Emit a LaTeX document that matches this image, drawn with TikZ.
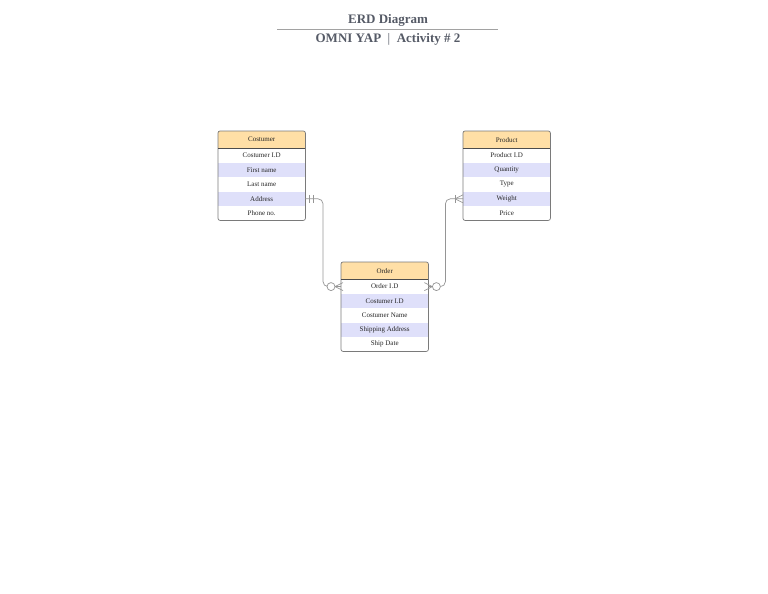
\documentclass[tikz,border=0pt]{standalone}
\usepackage{fontspec}
\setmainfont{Liberation Serif}
\usetikzlibrary{calc}
\definecolor{hd}{HTML}{FFDFA6}
\definecolor{alt}{HTML}{DFE0FA}
\definecolor{bd}{HTML}{7A7A7A}
\definecolor{tt}{HTML}{555A66}
\tikzset{
 cell/.style={minimum width=87pt,minimum height=14pt,inner sep=0pt,anchor=north west,font=\fontsize{7}{8}\selectfont,text=black!85},
 hdr/.style={cell,fill=hd,minimum height=17pt},
 w/.style={cell,fill=white},
 a/.style={cell,fill=alt},
 frame/.style={draw=bd,line width=0.7pt,rounded corners=2pt},
 conn/.style={draw=bd!80,line width=0.7pt},
}
\begin{document}
\begin{tikzpicture}[x=1pt,y=-1pt]
\useasboundingbox (0,0) rectangle (768,594);
\node[font=\bfseries\fontsize{13}{15}\selectfont,text=tt] (t1) at (388,20) {ERD Diagram};
\node[font=\bfseries\fontsize{13}{15}\selectfont,text=tt] (t2) at (388,39) {OMNI YAP \ {\mdseries|}\ \ Activity \# 2};
\draw[bd!70,line width=0.6pt] (277,29.5) -- (498,29.5);
% Customer
\node[hdr] (ch) at (218,131) {Costumer};
\node[w] (c1) at (ch.south west) {Costumer I.D};
\node[a] (c2) at (c1.south west) {First name};
\node[w] (c3) at (c2.south west) {Last name};
\node[a] (c4) at (c3.south west) {Address};
\node[w] (c5) at (c4.south west) {Phone no.};
\draw[frame] (ch.north west) rectangle (c5.south east);
\draw[black!70,line width=0.8pt] (ch.south west) -- (ch.south east);
% Product
\node[hdr] (ph) at (463,131) {Product};
\node[w] (p1) at (ph.south west) {Product I.D};
\node[a] (p2) at (p1.south west) {Quantity};
\node[w] (p3) at (p2.south west) {Type};
\node[a] (p4) at (p3.south west) {Weight};
\node[w] (p5) at (p4.south west) {Price};
\draw[frame] (ph.north west) rectangle (p5.south east);
\draw[black!70,line width=0.8pt] (ph.south west) -- (ph.south east);
% Order
\node[hdr] (oh) at (341,262) {Order};
\node[w] (o1) at (oh.south west) {Order I.D};
\node[a] (o2) at (o1.south west) {Costumer I.D};
\node[w] (o3) at (o2.south west) {Costumer Name};
\node[a] (o4) at (o3.south west) {Shipping Address};
\node[w] (o5) at (o4.south west) {Ship Date};
\draw[frame] (oh.north west) rectangle (o5.south east);
\draw[black!70,line width=0.8pt] (oh.south west) -- (oh.south east);
% connectors
\coordinate (lc) at ($(o1.west)+(-10,0)$);
\coordinate (rc) at ($(o1.east)+(8,0)$);
\draw[conn,rounded corners=5pt] (c4.east) -| ($(o1.west)+(-18,0)$) -- ($(lc)+(-4,0)$);
\draw[conn] ($(lc)+(4,0)$) -- (o1.west);
\draw[conn] (lc) ++(4,0) -- ++(8,-4) (lc) ++(4,0) -- ++(8,4);
\draw[conn,fill=white] (lc) circle (4);
\draw[conn] ($(c4.east)+(4,-4)$) -- ++(0,8) ($(c4.east)+(8,-4)$) -- ++(0,8);
\draw[conn,rounded corners=5pt] (p4.west) -| ($(o1.east)+(17,0)$) -- ($(rc)+(4,0)$);
\draw[conn] (o1.east) -- ($(rc)+(-4,0)$);
\draw[conn] (rc) ++(-4,0) -- ++(-8,-4) (rc) ++(-4,0) -- ++(-8,4);
\draw[conn,fill=white] (rc) circle (4);
\draw[conn] ($(p4.west)+(-8,-4)$) -- ++(0,8);
\draw[conn] ($(p4.west)+(-8,0)$) -- ++(8,-4) ($(p4.west)+(-8,0)$) -- ++(8,4);
\end{tikzpicture}
\end{document}
